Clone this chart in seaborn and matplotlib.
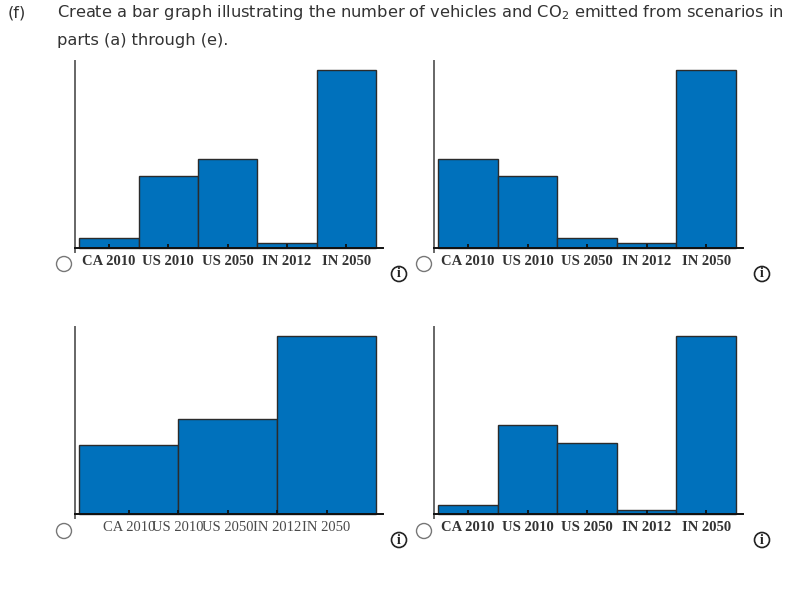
import matplotlib
matplotlib.use("Agg")
import matplotlib.pyplot as plt
import seaborn as sns
from matplotlib.patches import Circle

# scenario labels used under every option
labels = ["CA 2010", "US 2010", "US 2050", "IN 2012", "IN 2050"]

# bar heights (IN 2050 = 100)
vals_a = [5.5, 40.3, 50.1, 2.5, 100]
vals_b = [50.1, 40.3, 5.5, 2.5, 100]
groups_c = ["first", "second", "third"]
vals_c = [38.9, 53.6, 100]
vals_d = [5.2, 50.1, 40.2, 2.2, 100]

BAR = "#0071bc"
EDGE = "#2b2b2b"
W, H, DPI = 800, 611, 100


def px_axes(fig, x0, x1, y0, y1):
    # axes box given in pixel coords (top-left origin)
    return fig.add_axes([x0 / W, 1 - y1 / H, (x1 - x0) / W, (y1 - y0) / H])


def style_axis(ax, xlim, ticks, tick_labels, bold=True):
    ax.set_xlim(*xlim)
    ax.set_ylim(-2.25, 105)
    ax.spines["bottom"].set_position(("data", 0))
    ax.spines["bottom"].set_color("#111111")
    ax.spines["bottom"].set_linewidth(1.4)
    ax.spines["left"].set_color("#666666")
    ax.spines["left"].set_linewidth(1.4)
    ax.spines["top"].set_visible(False)
    ax.spines["right"].set_visible(False)
    ax.set_yticks([])
    ax.set_xticks(ticks)
    ax.set_xticklabels(
        tick_labels,
        fontfamily="Liberation Serif",
        fontsize=10.5,
        fontweight="bold" if bold else "normal",
        color="#333333" if bold else "#4a4a4a",
    )
    ax.tick_params(axis="x", direction="in", length=3, width=1.3, color="#111111", pad=5)
    ax.set_xlabel("")
    ax.set_ylabel("")


def radio(fig, x, y):
    fig.add_artist(Circle((x / DPI, (H - y) / DPI), 0.075, transform=fig.dpi_scale_trans,
                          facecolor="white", edgecolor="#777777", linewidth=1.0))


def info(fig, x, y):
    fig.add_artist(Circle((x / DPI, (H - y) / DPI), 0.075, transform=fig.dpi_scale_trans,
                          facecolor="white", edgecolor="#222222", linewidth=1.2))
    fig.text(x / W, 1 - y / H, "i", ha="center", va="center", fontsize=10,
             fontweight="bold", fontfamily="Liberation Serif", color="#222222")


fig = plt.figure(figsize=(W / DPI, H / DPI), dpi=DPI)

# header text
HEAD = 11.7
fig.text(8 / W, 1 - 13 / H, "(f)", fontsize=HEAD, color="#333333", va="center")
fig.text(57 / W, 1 - 13 / H,
         "Create a bar graph illustrating the number of vehicles and CO$_2$ emitted from scenarios in",
         fontsize=HEAD, color="#333333", va="center")
fig.text(57 / W, 1 - 41 / H, "parts (a) through (e).", fontsize=HEAD, color="#333333", va="center")

five_lim = (-0.573, 4.618)

ax = px_axes(fig, 75, 383, 61, 251.7)
sns.barplot(x=labels, y=vals_a, order=labels, color=BAR, width=1, saturation=1,
            edgecolor=EDGE, linewidth=1, ax=ax)
style_axis(ax, five_lim, range(5), labels)

ax = px_axes(fig, 434, 743, 61, 251.7)
sns.barplot(x=labels, y=vals_b, order=labels, color=BAR, width=1, saturation=1,
            edgecolor=EDGE, linewidth=1, ax=ax)
style_axis(ax, five_lim, range(5), labels)

ax = px_axes(fig, 75, 383, 327.3, 518.3)
sns.barplot(x=groups_c, y=vals_c, order=groups_c, color=BAR, width=1, saturation=1,
            edgecolor=EDGE, linewidth=1, ax=ax)
style_axis(ax, (-0.543, 2.57), [0, 0.5, 1, 1.5, 2], labels, bold=False)

ax = px_axes(fig, 434, 743, 327.3, 518.3)
sns.barplot(x=labels, y=vals_d, order=labels, color=BAR, width=1, saturation=1,
            edgecolor=EDGE, linewidth=1, ax=ax)
style_axis(ax, five_lim, range(5), labels)

# answer choice widgets
for x, y in [(64, 264), (424, 264), (64, 531), (424, 531)]:
    radio(fig, x, y)
for x, y in [(399, 274), (762, 274), (399, 540), (762, 540)]:
    info(fig, x, y)

fig.savefig("out.png", dpi=DPI)
